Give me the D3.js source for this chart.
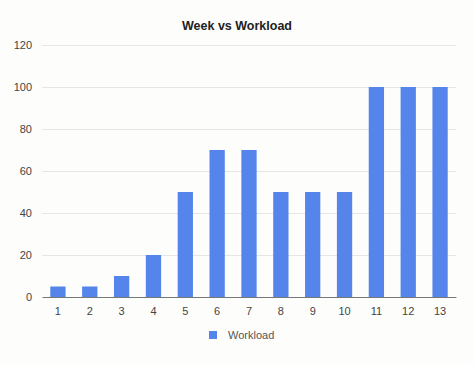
<!DOCTYPE html>
<html>
<head>
<meta charset="utf-8">
<script src="https://cdn.jsdelivr.net/npm/d3@7"></script>
<style>
  body { margin: 0; background: #fdfdfb; }
  svg { display: block; font-family: "Helvetica Neue", "Liberation Sans", Arial, sans-serif; }
</style>
</head>
<body>
<div id="chart"></div>
<script>
const weeks = ["1","2","3","4","5","6","7","8","9","10","11","12","13"]
const workload = [5, 5, 10, 20, 50, 70, 70, 50, 50, 50, 100, 100, 100]
const yTicks = [0, 20, 40, 60, 80, 100, 120]
const seriesName = "Workload"
const chartTitle = "Week vs Workload"

const W = 474, H = 365
const margin = {top: 45, right: 18, bottom: 68, left: 42}
const width = W - margin.left - margin.right
const height = H - margin.top - margin.bottom
const barColor = "#5585ea"

const svg = d3.select("#chart").append("svg")
  .attr("width", W).attr("height", H)

svg.append("rect").attr("width", W).attr("height", H).attr("fill", "#fdfdfb")

const g = svg.append("g")
  .attr("transform", "translate(" + margin.left + "," + margin.top + ")")

// scales
const xScale = d3.scaleBand().domain(weeks).range([0, width]).paddingInner(0.52).paddingOuter(0.26)
const yScale = d3.scaleLinear().domain([0, 120]).range([height, 0])

// grid
g.selectAll(".grid").data(yTicks.filter(d => d > 0)).enter().append("line")
  .attr("class", "grid")
  .attr("x1", 0).attr("x2", width)
  .attr("y1", d => yScale(d) + 0.5).attr("y2", d => yScale(d) + 0.5)
  .attr("stroke", "#e6e6e6")

// y axis
const yAxis = d3.axisLeft(yScale).tickValues(yTicks).tickSize(0).tickPadding(10)
g.append("g").call(yAxis)
  .call(s => s.select(".domain").remove())
  .selectAll("text").attr("fill", "#444").style("font-size", "11px")

// bars
g.selectAll(".bar").data(workload).enter().append("rect")
  .attr("class", "bar")
  .attr("x", (d, i) => xScale(weeks[i]))
  .attr("width", xScale.bandwidth())
  .attr("y", d => yScale(d))
  .attr("height", d => height - yScale(d))
  .attr("fill", barColor)

// x axis
const xAxis = d3.axisBottom(xScale).tickSize(0).tickPadding(10)
g.append("g").attr("transform", "translate(0," + height + ")").call(xAxis)
  .call(s => s.select(".domain").attr("stroke", "#777").attr("stroke-width", 1))
  .selectAll("text").attr("fill", "#444").style("font-size", "11px")

// title
svg.append("text")
  .attr("x", W / 2).attr("y", 30)
  .attr("text-anchor", "middle")
  .attr("fill", "#222")
  .style("font-size", "12.5px").style("font-weight", "bold")
  .text(chartTitle)

// legend
const lg = svg.append("g").attr("transform", "translate(209,331)")
lg.append("rect").attr("width", 8).attr("height", 8).attr("fill", barColor)
lg.append("text").attr("x", 19).attr("y", 7.5)
  .attr("fill", "#555").style("font-size", "11px").text(seriesName)
</script>
</body>
</html>
